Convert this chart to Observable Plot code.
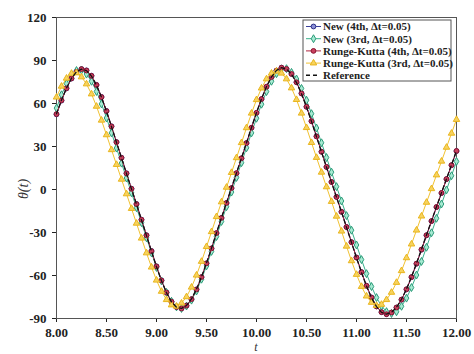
<!DOCTYPE html>
<html>
<head>
<meta charset="utf-8">
<script src="https://cdn.jsdelivr.net/npm/d3@7"></script>
<script src="https://cdn.jsdelivr.net/npm/@observablehq/plot@0.6"></script>
<style>
  html, body { margin: 0; padding: 0; background: #fff; }
</style>
</head>
<body>
<div id="chart"></div>
<script>
const t = [8.00,8.05,8.10,8.15,8.20,8.25,8.30,8.35,8.40,8.45,
  8.50,8.55,8.60,8.65,8.70,8.75,8.80,8.85,8.90,8.95,
  9.00,9.05,9.10,9.15,9.20,9.25,9.30,9.35,9.40,9.45,
  9.50,9.55,9.60,9.65,9.70,9.75,9.80,9.85,9.90,9.95,
  10.00,10.05,10.10,10.15,10.20,10.25,10.30,10.35,10.40,10.45,
  10.50,10.55,10.60,10.65,10.70,10.75,10.80,10.85,10.90,10.95,
  11.00,11.05,11.10,11.15,11.20,11.25,11.30,11.35,11.40,11.45,
  11.50,11.55,11.60,11.65,11.70,11.75,11.80,11.85,11.90,11.95,
  12.00];

const newFourth = [52.4,62.0,70.5,77.4,82.0,84.0,83.1,79.4,73.0,64.6,
  54.8,44.1,33.1,22.2,11.3,0.6,-10.1,-21.0,-31.9,-42.9,
  -53.6,-63.4,-71.8,-78.3,-82.0,-83.0,-81.1,-76.6,-69.8,-61.2,
  -51.6,-41.2,-30.5,-19.9,-9.5,0.9,11.3,21.7,32.3,43.0,
  53.4,63.0,71.6,78.4,82.9,85.0,84.1,80.7,74.9,67.1,
  57.8,47.7,37.1,26.4,15.8,5.3,-5.1,-15.5,-26.1,-36.7,
  -47.4,-57.6,-67.1,-75.3,-81.5,-85.6,-87.0,-85.9,-82.4,-76.9,
  -69.7,-61.2,-51.8,-42.0,-32.0,-22.1,-12.3,-2.5,7.2,16.9,
  26.8];

const newThird = [56.8,66.1,73.9,79.5,83.0,83.3,80.5,75.5,68.4,59.7,
  49.9,39.5,28.9,18.4,8.0,-2.3,-12.7,-23.1,-33.7,-44.2,
  -54.4,-63.8,-71.8,-78.0,-81.9,-83.0,-81.3,-77.2,-70.8,-62.6,
  -53.3,-43.2,-32.8,-22.3,-12.0,-1.8,8.4,18.7,29.1,39.5,
  49.7,59.5,68.3,75.5,80.8,84.0,84.3,81.7,77.1,70.5,
  62.3,52.9,42.9,32.6,22.3,12.1,2.0,-8.0,-18.2,-28.4,
  -38.7,-48.9,-58.7,-67.7,-75.4,-81.3,-85.2,-86.5,-85.3,-81.5,
  -75.8,-68.4,-59.7,-50.2,-40.3,-30.2,-20.1,-10.1,-0.3,9.6,
  19.6];

const rungeKutta4 = [52.6,62.2,70.6,77.5,82.0,84.0,83.0,79.3,72.9,64.5,
  54.7,44.0,33.0,22.1,11.2,0.5,-10.2,-21.1,-32.0,-43.0,
  -53.7,-63.5,-71.9,-78.3,-82.0,-83.0,-81.0,-76.5,-69.7,-61.1,
  -51.5,-41.1,-30.4,-19.8,-9.4,1.0,11.4,21.8,32.4,43.1,
  53.5,63.1,71.7,78.5,83.0,85.0,84.1,80.6,74.8,67.0,
  57.7,47.6,37.0,26.3,15.7,5.2,-5.2,-15.6,-26.2,-36.8,
  -47.5,-57.7,-67.2,-75.4,-81.6,-85.6,-87.0,-85.8,-82.3,-76.8,
  -69.6,-61.1,-51.7,-41.9,-31.9,-22.0,-12.2,-2.4,7.3,17.0,
  26.9];

const rungeKutta3 = [64.4,72.0,77.6,81.0,81.3,78.5,73.6,66.6,58.0,48.3,
  38.1,27.7,17.4,7.1,-3.1,-13.3,-23.6,-34.0,-44.3,-54.2,
  -63.3,-71.1,-76.9,-80.6,-81.5,-79.3,-74.9,-68.2,-59.8,-50.2,
  -39.9,-29.5,-19.0,-8.7,1.5,11.8,22.1,32.6,43.0,53.2,
  62.6,70.7,77.1,81.1,82.5,81.1,77.1,70.8,62.7,53.2,
  43.1,32.7,22.3,12.0,1.8,-8.4,-18.7,-29.1,-39.6,-49.8,
  -59.3,-67.7,-74.4,-78.8,-81.0,-80.2,-76.9,-71.8,-64.9,-56.7,
  -47.7,-38.1,-28.4,-18.6,-9.0,0.5,10.1,19.7,29.4,39.2,
  48.8];

const reference = [52.8,62.4,70.8,77.6,82.1,84.0,82.9,79.1,72.7,64.3,
  54.5,43.8,32.8,21.9,11.0,0.3,-10.4,-21.3,-32.2,-43.2,
  -53.9,-63.7,-72.0,-78.4,-82.1,-83.0,-80.9,-76.3,-69.5,-60.9,
  -51.3,-40.9,-30.2,-19.6,-9.2,1.2,11.6,22.0,32.6,43.3,
  53.7,63.3,71.9,78.6,83.1,85.0,84.0,80.4,74.6,66.8,
  57.5,47.4,36.8,26.1,15.5,5.0,-5.4,-15.8,-26.4,-37.0,
  -47.7,-57.9,-67.4,-75.6,-81.7,-85.7,-87.0,-85.7,-82.1,-76.6,
  -69.4,-60.9,-51.5,-41.7,-31.7,-21.8,-12.0,-2.2,7.5,17.2,
  27.1];

const seriesNames = ["New (4th, \u0394t=0.05)", "New (3rd, \u0394t=0.05)",
  "Runge-Kutta (4th, \u0394t=0.05)", "Runge-Kutta (3rd, \u0394t=0.05)", "Reference"];
const xTicks = [8.0, 8.5, 9.0, 9.5, 10.0, 10.5, 11.0, 11.5, 12.0];
const yTicks = [-90, -60, -30, 0, 30, 60, 90, 120];

const mk = (vals) => t.map((tt, i) => ({t: tt, v: vals[i]}));

const styles = [
  {data: mk(newFourth),   symbol: "circle",   line: "#3b3f9a", stroke: "#2c2f86", fill: "#8a8fd6"},
  {data: mk(newThird),    symbol: "diamond",  line: "#39b08c", stroke: "#2a9a78", fill: "#a6ead2"},
  {data: mk(rungeKutta4), symbol: "circle",   line: "#b0243f", stroke: "#8a1330", fill: "#c8405e"},
  {data: mk(rungeKutta3), symbol: "triangle", line: "#f1c232", stroke: "#e9b51d", fill: "#f7d35e"}
];

const marks = [Plot.frame({stroke: "#555", strokeWidth: 1})];
for (const s of styles) {
  marks.push(Plot.line(s.data, {x: "t", y: "v", stroke: s.line, strokeWidth: 1}));
  marks.push(Plot.dot(s.data, {x: "t", y: "v", symbol: s.symbol, r: 2.4, stroke: s.stroke, fill: s.fill, strokeWidth: 1}));
}
marks.push(Plot.line(mk(reference), {x: "t", y: "v", stroke: "#111", strokeWidth: 1.3, strokeDasharray: "4,3"}));

const chart = Plot.plot({
  width: 474,
  height: 354,
  marginLeft: 56,
  marginRight: 18,
  marginTop: 17,
  marginBottom: 36,
  style: {fontFamily: "'Liberation Serif', serif", fontSize: "13px", fontWeight: "bold", color: "#222", background: "#fff"},
  x: {domain: [8, 12], ticks: xTicks, tickFormat: d3.format(".2f"), tickSize: 4, tickPadding: 5, label: null},
  y: {domain: [-90, 120], ticks: yTicks, tickFormat: d => String(d), tickSize: 4, tickPadding: 6, label: null},
  marks
});
document.getElementById("chart").appendChild(chart);

const svg = d3.select(chart);
// axis titles
svg.append("text")
  .attr("transform", "translate(23,189) rotate(-90)")
  .attr("text-anchor", "middle")
  .attr("dy", "0.35em")
  .style("font-style", "italic").style("font-weight", "normal").style("font-size", "14px")
  .style("font-family", "'Liberation Serif', serif").style("fill", "#333")
  .text("\u03b8(t)");
svg.append("text")
  .attr("x", 256).attr("y", 351)
  .attr("text-anchor", "middle")
  .style("font-style", "italic").style("font-weight", "normal").style("font-size", "12px")
  .style("font-family", "'Liberation Serif', serif").style("fill", "#333")
  .text("t");

// legend
const lg = svg.append("g").attr("transform", "translate(303,20)").attr("text-anchor", "start");
lg.append("rect").attr("x", 0).attr("y", 0).attr("width", 148).attr("height", 61)
  .style("fill", "#fff").style("stroke", "#555").style("stroke-width", "1px");
const symMap = {circle: d3.symbolCircle, diamond: d3.symbolDiamond, triangle: d3.symbolTriangle};
seriesNames.forEach((name, i) => {
  const y = 6.5 + i * 12.2;
  const row = lg.append("g").attr("transform", `translate(0,${y})`);
  if (i < 4) {
    const s = styles[i];
    row.append("line").attr("x1", 3).attr("x2", 18).attr("y1", 0).attr("y2", 0)
      .style("stroke", s.line).style("stroke-width", "1px");
    row.append("path").attr("transform", "translate(10.5,0)")
      .attr("d", d3.symbol(symMap[s.symbol], Math.PI * 2.4 * 2.4)())
      .style("fill", s.fill).style("stroke", s.stroke).style("stroke-width", "1px");
  } else {
    row.append("line").attr("x1", 3).attr("x2", 17).attr("y1", 0).attr("y2", 0)
      .style("stroke", "#111").style("stroke-width", "1.5px").style("stroke-dasharray", "4,3");
  }
  row.append("text").attr("x", 20).attr("y", 0).attr("dy", "0.35em")
    .attr("text-anchor", "start")
    .style("font-family", "'Liberation Serif', serif").style("font-weight", "bold").style("font-size", "11px")
    .style("fill", "#222").text(name);
});
</script>
</body>
</html>
